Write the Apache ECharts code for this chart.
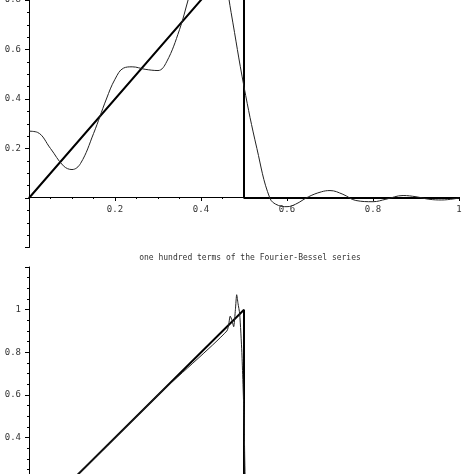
<!DOCTYPE html><html><head><meta charset="utf-8">
<script src="https://cdn.jsdelivr.net/npm/echarts@6/dist/echarts.min.js"></script>
<style>html,body{margin:0;background:#fff}#c{width:474px;height:474px}</style></head><body><div id="c"></div>
<script>
const targetX=[0,0.5,0.5,1];
const targetY=[0,1,0,0];
const topX=[0,0.02,0.05,0.08,0.1,0.12,0.15,0.18,0.2,0.22,0.24,0.27,0.3,0.32,0.35,0.37,0.4,0.43,0.45,0.47,0.5,0.53,0.56,0.58,0.6,0.62,0.65,0.68,0.7,0.73,0.76,0.8,0.83,0.87,0.9,0.93,0.96,1];
const topY=[0.27,0.265,0.2,0.13,0.115,0.14,0.26,0.4,0.48,0.525,0.53,0.52,0.515,0.55,0.68,0.8,0.98,1.05,0.95,0.75,0.45,0.2,0,-0.03,-0.035,-0.025,0.005,0.025,0.03,0.015,-0.01,-0.015,-0.005,0.01,0.005,-0.005,-0.008,0];
const botX=[0,0.1,0.3,0.46,0.468,0.472,0.476,0.48,0.483,0.486,0.49,0.495,0.5,0.505,0.52,1];
const botY=[0.02,0.2,0.6,0.9,0.97,0.95,0.92,1.0,1.07,1.03,0.98,0.8,0.5,0.1,0,0];
const title='one hundred terms of the Fourier-Bessel series';
const pairs=(a,b)=>a.map((v,i)=>[v,b[i]]);
const fmt=v=>v===1?'1':String(v);
const lbl={color:'#333',fontFamily:'DejaVu Sans Mono',fontSize:9};
const ax={axisTick:{length:4,lineStyle:{color:'#000'}},minorTick:{show:true,splitNumber:4,length:2,lineStyle:{color:'#000'}},splitLine:{show:false}};
const gb={outerBoundsMode:'none',containLabel:false,left:29,width:430};
const c=echarts.init(document.getElementById('c'));
c.setOption({animation:false,
title:{text:title,left:245,textAlign:'center',top:249,textStyle:{fontFamily:'DejaVu Sans Mono',fontSize:8,fontWeight:'normal',color:'#333'}},
grid:[{...gb,top:-99,height:346.5},{...gb,top:267,height:256},{...gb,top:196,height:1}],
xAxis:[{gridIndex:0,type:'value',min:0,max:1,interval:0.2,show:false},
{gridIndex:1,type:'value',min:0,max:1,interval:0.2,...ax,axisLine:{lineStyle:{color:'#000'}},axisLabel:{...lbl,formatter:v=>v===0?'':fmt(v)}},
{gridIndex:2,type:'value',min:0,max:1,interval:0.2,...ax,axisLine:{lineStyle:{color:'#000'}},axisLabel:{...lbl,formatter:v=>v===0?'':fmt(v),margin:8}}],
yAxis:[{gridIndex:0,type:'value',min:-0.2,max:1.2,interval:0.2,...ax,axisLine:{onZero:false,lineStyle:{color:'#000'}},axisLabel:{...lbl,formatter:v=>(v<=0||v>0.85)?'':fmt(Math.round(v*10)/10)}},
{gridIndex:1,type:'value',min:0,max:1.2,interval:0.2,...ax,axisLine:{onZero:false,lineStyle:{color:'#000'}},axisLabel:{...lbl,formatter:v=>(v<=0||v>1.05)?'':fmt(Math.round(v*10)/10)}},
{gridIndex:2,type:'value',min:0,max:1,show:false}],
series:[
{type:'line',xAxisIndex:0,yAxisIndex:0,data:pairs(targetX,targetY),symbol:'none',lineStyle:{color:'#000',width:2}},
{type:'line',xAxisIndex:0,yAxisIndex:0,data:pairs(topX,topY),symbol:'none',smooth:0.4,lineStyle:{color:'#222',width:1}},
{type:'line',xAxisIndex:1,yAxisIndex:1,data:pairs(targetX,targetY),symbol:'none',lineStyle:{color:'#000',width:2}},
{type:'line',xAxisIndex:1,yAxisIndex:1,data:pairs(botX,botY),symbol:'none',smooth:0.2,lineStyle:{color:'#222',width:1}}
]});
</script></body></html>
